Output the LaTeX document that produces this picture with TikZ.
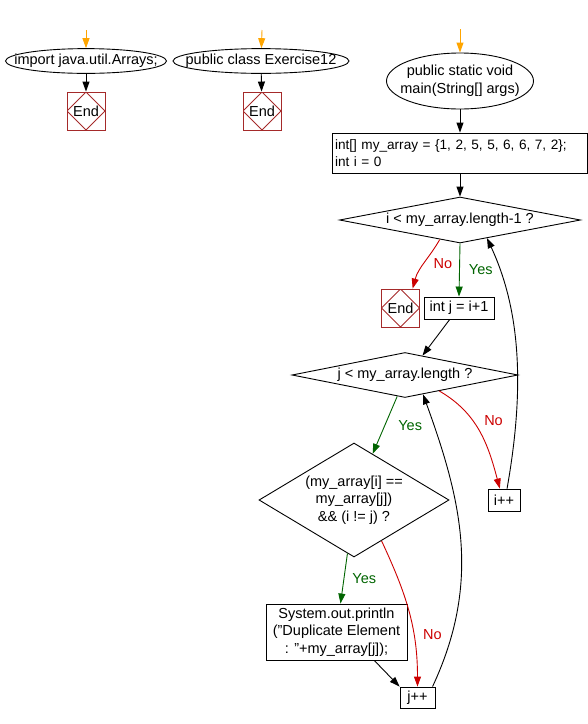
\documentclass[tikz,border=0pt]{standalone}
\usepackage{fontspec}
\setmainfont{Liberation Sans}
\usetikzlibrary{arrows.meta,shapes.geometric}
\definecolor{startorange}{RGB}{255,165,0}
\definecolor{endred}{RGB}{165,42,42}
\definecolor{nored}{RGB}{204,0,0}
\definecolor{yesgreen}{RGB}{0,100,0}
\newcommand\dtext[1]{\makebox[0pt]{\begin{tabular}{@{}c@{}}#1\end{tabular}}}
\tikzset{
  every node/.style={font=\fontsize{14.5}{17.5}\selectfont},
  oval/.style={draw,ellipse,inner sep=0pt,line width=0.9pt},
  box/.style={draw,rectangle,inner sep=0pt,line width=0.9pt},
  test/.style={draw,diamond,inner sep=0pt,line width=0.9pt},
  endbox/.style={draw=endred,line width=0.9pt,minimum size=38,inner sep=0pt,
    path picture={\draw[endred,line width=0.9pt] (path picture bounding box.north) -- (path picture bounding box.east)
      -- (path picture bounding box.south) -- (path picture bounding box.west) -- cycle;}},
  flow/.style={line width=0.9pt,-{Triangle[length=10pt,width=7pt]}},
  startflow/.style={flow,draw=startorange},
  yes/.style={flow,draw=yesgreen},
  no/.style={flow,draw=nored},
  yeslabel/.style={text=yesgreen,inner sep=0pt},
  nolabel/.style={text=nored,inner sep=0pt}
}
\begin{document}
\begin{tikzpicture}[x=1pt,y=-1pt]
\useasboundingbox (0,0) rectangle (588,724);
\node[oval,minimum width=161,minimum height=20] (imp) at (86,61) {\dtext{import java.util.Arrays;}};
\node[oval,minimum width=176,minimum height=20] (cls) at (261,61) {\dtext{public class Exercise12}};
\node[endbox] (end1) at (86,111) {End};
\node[endbox] (end2) at (262,111) {End};
\node[oval,minimum width=147,minimum height=56] (main) at (460,81) {\dtext{public static void\\main(String[] args)}};
\node[box,minimum width=255,minimum height=40,text width=250,inner xsep=2.5,align=left,
  font=\fontsize{13.6}{17}\selectfont] (init) at (460,153)
  {int[] my\_array = \{1, 2, 5, 5, 6, 6, 7, 2\};\\int i = 0};
\node[test,minimum width=241,minimum height=46] (outer) at (460,220) {\dtext{i < my\_array.length-1 ?}};
\node[endbox] (end3) at (400.5,308) {End};
\node[box,minimum width=70,minimum height=22] (setj) at (459,308) {int j = i+1};
\node[test,minimum width=226,minimum height=45] (inner) at (405,375) {\dtext{j < my\_array.length ?}};
\node[test,minimum width=190,minimum height=114] (same) at (354,500) {\dtext{(my\_array[i] ==\\my\_array[j])\\\&\& (i != j) ?}};
\node[box,minimum width=32,minimum height=22] (inci) at (504,500) {i++};
\node[box,minimum width=141,minimum height=56] (print) at (336.5,632) {\dtext{System.out.println\\("Duplicate Element\\: "+my\_array[j]);}};
\node[box,minimum width=35,minimum height=21] (incj) at (417.5,697.5) {j++};
\coordinate (s1) at (86,30);
\coordinate (s2) at (262,30);
\coordinate (s3) at (460,29);
\draw[startflow] (s1) -- (imp);
\draw[startflow] (s2) -- (cls);
\draw[startflow] (s3) -- (main);
\draw[flow] (imp) -- (end1);
\draw[flow] (cls) -- (end2);
\draw[flow] (main) -- (init);
\draw[flow] (init) -- (outer);
\draw[yes] (outer.south) -- (setj.north) node[yeslabel,midway,right=9pt] {Yes};
\draw[no] (outer.-136) to[out=-120,in=75] node[nolabel,midway,right=9pt] {No} (end3.58);
\draw[flow] (setj.-129) -- (inner.48);
\draw[yes] (inner.-110) -- (same.68) node[yeslabel,midway,right=13pt] {Yes};
\draw[no] (inner.-25) to[out=-30,in=105] node[nolabel,pos=0.38,right=11pt] {No} (inci.110);
\draw[flow] (inci.75) to[out=80,in=-65,looseness=0.9] (outer.-34);
\draw[yes] (same.-97) -- (print.82) node[yeslabel,midway,right=8pt] {Yes};
\draw[no] (same.-56) to[out=-65,in=90] node[nolabel,pos=0.67,right=9pt] {No} (incj.north);
\draw[flow] (print.-37) -- (incj.north west);
\draw[flow] (incj.36) to[out=65,in=-70] (inner.-47);
\end{tikzpicture}
\end{document}
